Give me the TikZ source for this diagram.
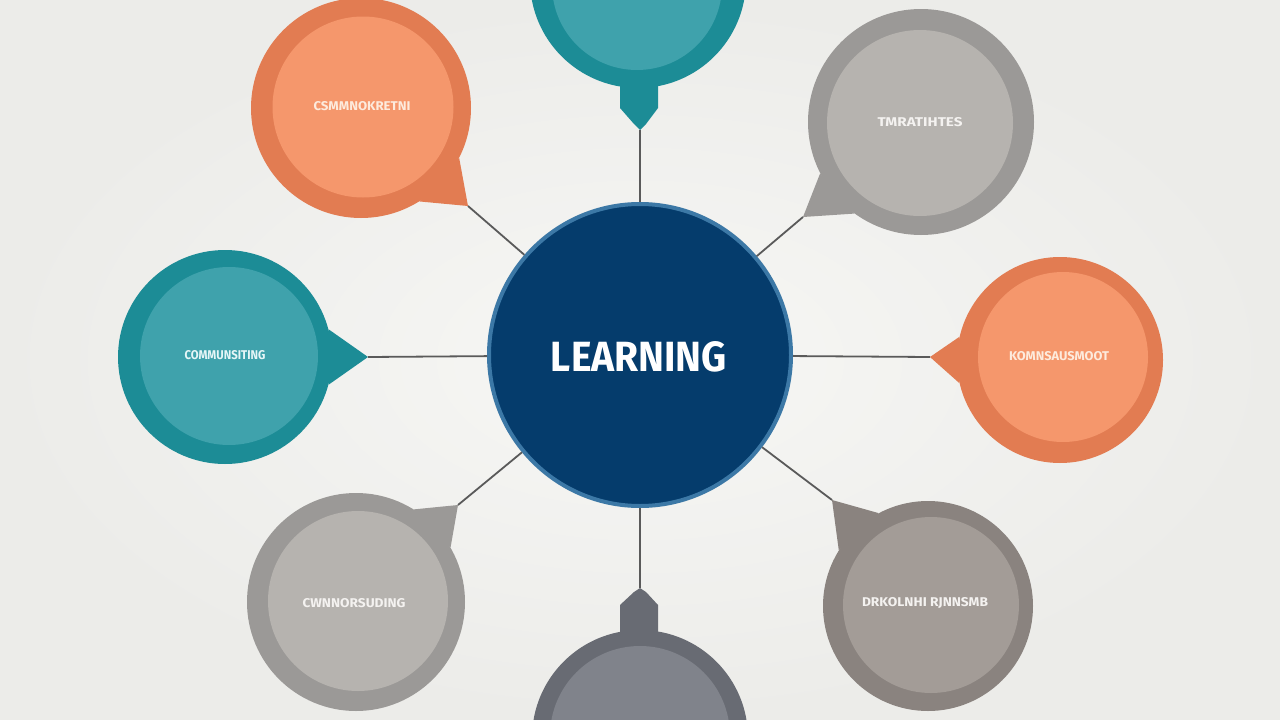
\documentclass[tikz,border=0pt]{standalone}
\usepackage{fontspec}
\setmainfont{Fira Sans}
\usepackage{graphicx}
\definecolor{bg}{HTML}{F7F7F5}
\definecolor{bgedge}{HTML}{ECECE9}
\definecolor{conn}{HTML}{5A5A5A}
\definecolor{navy}{HTML}{053C6C}
\definecolor{navyrim}{HTML}{3C78A6}
\definecolor{tealO}{HTML}{1C8C96}
\definecolor{tealI}{HTML}{3FA2AC}
\definecolor{orO}{HTML}{E27C52}
\definecolor{orI}{HTML}{F5976C}
\definecolor{grO}{HTML}{9B9997}
\definecolor{grI}{HTML}{B6B3AF}
\definecolor{tpO}{HTML}{8A837F}
\definecolor{tpI}{HTML}{A39C97}
\definecolor{slO}{HTML}{686B73}
\definecolor{slI}{HTML}{80838B}
\definecolor{lblor}{HTML}{FDEBDD}
\definecolor{lblgr}{HTML}{F4F2F0}
\definecolor{lbltl}{HTML}{E6F6F7}
\tikzset{
  outerb/.style={circle, inner sep=0pt, minimum size=#1},
  innerb/.style={circle, inner sep=0pt, minimum size=#1},
  conline/.style={draw=conn, line width=1.8pt},
  lbl/.style={inner sep=0pt, font=\bfseries},
}
\newcommand{\lab}[3]{\resizebox{#1pt}{#2pt}{#3}}
\begin{document}
\begin{tikzpicture}[x=1pt,y=-1pt]
\useasboundingbox (0,0) rectangle (1280,720);
\shade[inner color=bg, outer color=bgedge] (0,0) rectangle (1280,720);

% ---- top teal bubble
\node[outerb=216pt, fill=tealO] (bt) at (638,-20) {};
\fill[tealO] (620,60) -- (620,108) -- (634,124) -- (640,130) -- (646,124) -- (658,108) -- (658,60) -- cycle;
\node[innerb=170pt, fill=tealI] (bti) at (637,-15) {};
\coordinate (tt) at (640,130);

% ---- top-left orange bubble
\node[outerb=220pt, fill=orO] (btl) at (361,108) {};
\fill[orO] (468,206) -- (btl.-27) -- (btl.-58) -- cycle;
\node[innerb=181pt, fill=orI] (btli) at (363,107) {};
\node[lbl, text=lblor] (ltl) at (362,106) {\lab{97}{9}{CSMMNOKRETNI}};
\coordinate (ttl) at (468,206);

% ---- top-right gray bubble
\node[outerb=226pt, fill=grO] (btr) at (921,122) {};
\fill[grO] (803,217) -- (btr.-153) -- (btr.-126) -- cycle;
\node[innerb=186pt, fill=grI] (btri) at (920,123) {};
\node[lbl, text=lblgr] (ltr) at (920,122) {\lab{85}{9}{TMRATIHTES}};
\coordinate (ttr) at (803,217);

% ---- left teal bubble
\node[outerb=214pt, fill=tealO] (bl) at (225,357) {};
\fill[tealO] (368,357) -- (bl.15) -- (bl.-15) -- cycle;
\node[innerb=178pt, fill=tealI] (bli) at (229,356) {};
\node[lbl, text=lbltl] (ll) at (225,355) {\lab{81}{9}{COMMUNSITING}};
\coordinate (tl) at (368,357);

% ---- right orange bubble
\node[outerb=206pt, fill=orO] (br) at (1060,360) {};
\fill[orO] (930,357) -- (br.167) -- (br.193) -- cycle;
\node[innerb=170pt, fill=orI] (bri) at (1063,357) {};
\node[lbl, text=lblor] (lr) at (1059,356) {\lab{100}{9}{KOMNSAUSMOOT}};
\coordinate (tr) at (930,357);

% ---- bottom-left gray bubble
\node[outerb=218pt, fill=grO] (bbl) at (356,602) {};
\fill[grO] (458,505) -- (bbl.30) -- (bbl.58) -- cycle;
\node[innerb=180pt, fill=grI] (bbli) at (358,601) {};
\node[lbl, text=lblgr] (lbl) at (354,603) {\lab{103}{9}{CWNNORSUDING}};
\coordinate (tbl) at (458,505);

% ---- bottom-right taupe bubble
\node[outerb=210pt, fill=tpO] (bbr) at (928,606) {};
\fill[tpO] (832,500) -- (bbr.118) -- (bbr.148) -- cycle;
\node[innerb=176pt, fill=tpI] (bbri) at (931,605) {};
\node[lbl, text=lblgr] (lbr) at (925,603) {\lab{126}{9}{DRKOLNHI RJNNSMB}};
\coordinate (tbr) at (832,500);

% ---- bottom slate bubble
\node[outerb=216pt, fill=slO] (bb) at (640,738) {};
\fill[slO] (620,660) -- (620,605) -- (634,592) -- (640,588) -- (646,592) -- (658,605) -- (658,660) -- cycle;
\node[innerb=180pt, fill=slI] (bbi) at (640,736) {};
\coordinate (tb) at (640,588);

% ---- centre
\node[circle, inner sep=0pt, minimum size=302pt, fill=navy, draw=navyrim, line width=4pt] (c) at (640,355) {};
\node[lbl, text=white] (lc) at (639,357) {\resizebox{176pt}{30pt}{LEARNING}};

% ---- connectors
\draw[conline] (c) -- (tt);
\draw[conline] (c) -- (ttl);
\draw[conline] (c) -- (ttr);
\draw[conline] (c) -- (tl);
\draw[conline] (c) -- (tr);
\draw[conline] (c) -- (tbl);
\draw[conline] (c) -- (tbr);
\draw[conline] (c) -- (tb);
\end{tikzpicture}
\end{document}
